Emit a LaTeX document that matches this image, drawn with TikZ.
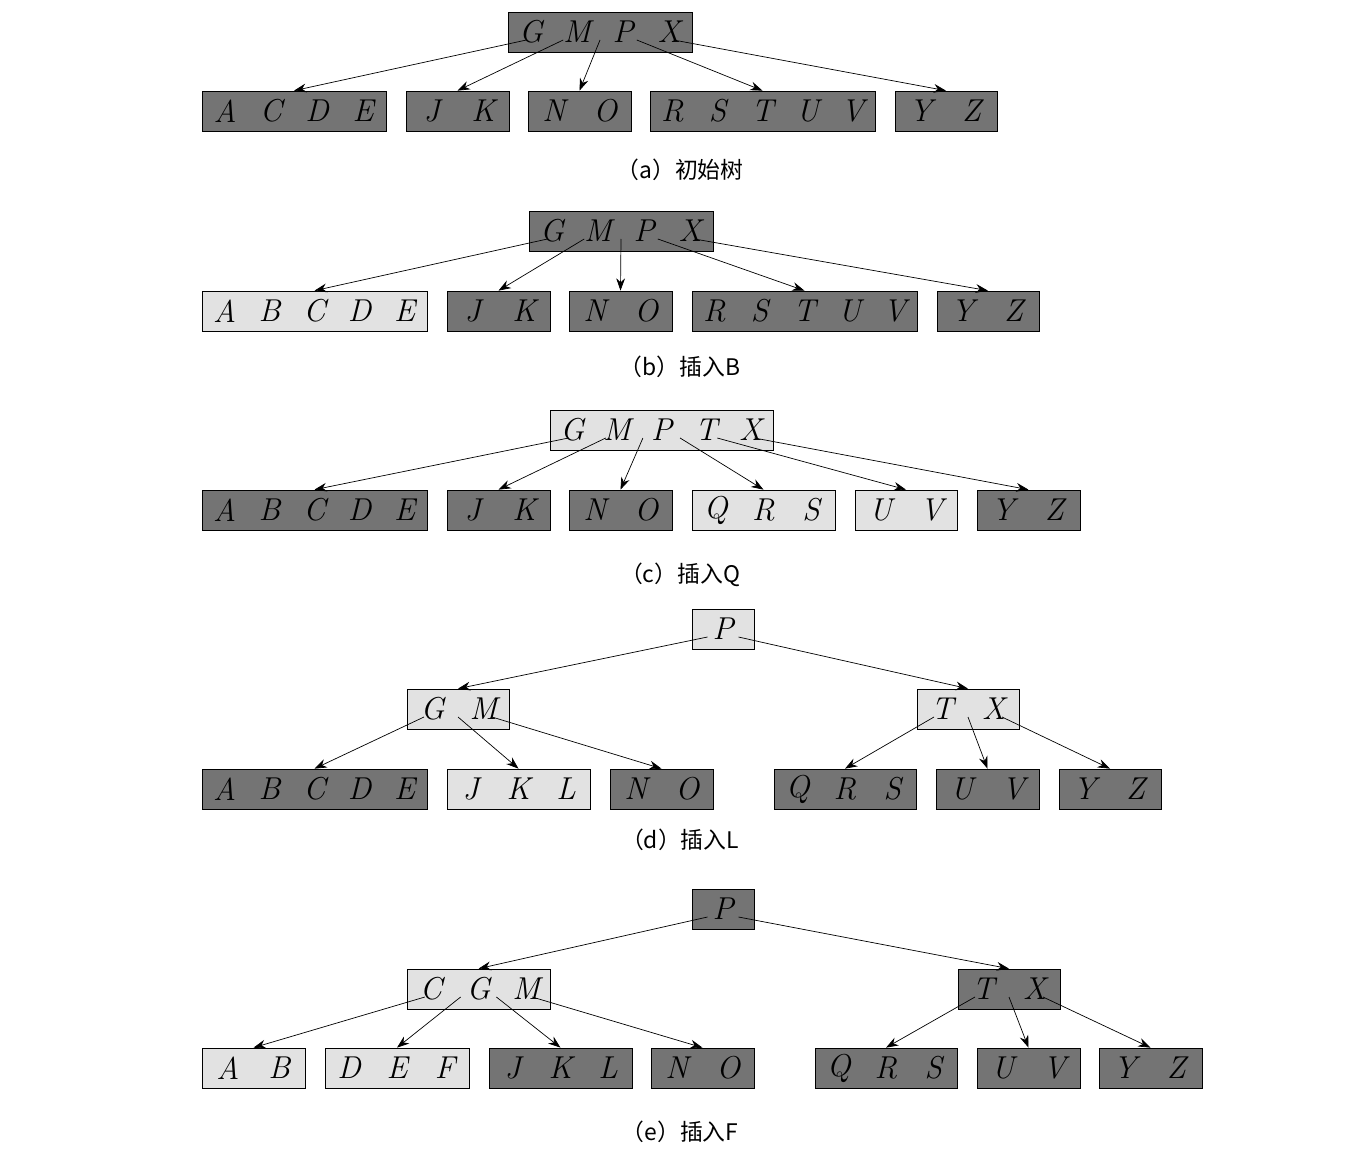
\documentclass[tikz,border=0pt]{standalone}
\usepackage{fontspec}
\newfontfamily\cjk{Noto Sans CJK SC}
\usetikzlibrary{arrows.meta}
\definecolor{darkkey}{HTML}{747474}
\definecolor{lightkey}{HTML}{E2E2E2}
\tikzset{
  dark/.style={draw=black,fill=darkkey},
  light/.style={draw=black,fill=lightkey},
  letter/.style={font=\fontsize{18}{20}\selectfont\itshape,inner sep=0pt},
  ptr/.style={-{Stealth[length=7pt,width=5pt]},thin},
  caption/.style={font=\cjk\fontsize{13}{15}\selectfont}
}
% name, left, right, y, style, number of keys, keys
\newcommand\bnode[7]{%
  \pgfmathsetmacro\bw{(#3-#2)*0.02}
  \node[#5,minimum width=\bw cm,minimum height=0.8cm,inner sep=0pt] (#1) at ({(#2+#3)/2},#4) {};
  \foreach \l [count=\i] in {#7}
    {\node[letter] at ({#2+(\i-0.5)*(#3-#2)/#6},#4) {\l};}
  \foreach \i in {1,...,\numexpr#6+1\relax}
    {\coordinate (#1-p\i) at ({#2+(\i-0.5)*(#3-#2)/(#6+1)},#4+8);}
}
\begin{document}
\begin{tikzpicture}[x=0.02cm,y=-0.02cm]
  \useasboundingbox (0,0) rectangle (1360,1162);

  %%%%  (a)
  \bnode{a0}{508}{692}{32}{dark}{4}{G,M,P,X}
  \bnode{a1}{202}{386}{111}{dark}{4}{A,C,D,E}
  \bnode{a2}{406}{509}{111}{dark}{2}{J,K}
  \bnode{a3}{528}{631}{111}{dark}{2}{N,O}
  \bnode{a4}{650}{875}{111}{dark}{5}{R,S,T,U,V}
  \bnode{a5}{895}{997}{111}{dark}{2}{Y,Z}
  \foreach \i in {1,...,5} {\draw[ptr] (a0-p\i) -- (a\i.north);}
  \node[caption] (capa) at (680,170) {（a）初始树};

  %%%%  (b)
  \bnode{b0}{529}{713}{231}{dark}{4}{G,M,P,X}
  \bnode{b1}{202}{427}{311}{light}{5}{A,B,C,D,E}
  \bnode{b2}{447}{550}{311}{dark}{2}{J,K}
  \bnode{b3}{569}{672}{311}{dark}{2}{N,O}
  \bnode{b4}{692}{917}{311}{dark}{5}{R,S,T,U,V}
  \bnode{b5}{937}{1039}{311}{dark}{2}{Y,Z}
  \foreach \i in {1,...,5} {\draw[ptr] (b0-p\i) -- (b\i.north);}
  \node[caption] (capb) at (680,367) {（b）插入\textit{B}};

  %%%%  (c)
  \bnode{c0}{550}{773}{430}{light}{5}{G,M,P,T,X}
  \bnode{c1}{202}{427}{510}{dark}{5}{A,B,C,D,E}
  \bnode{c2}{447}{550}{510}{dark}{2}{J,K}
  \bnode{c3}{569}{672}{510}{dark}{2}{N,O}
  \bnode{c4}{692}{835}{510}{light}{3}{Q,R,S}
  \bnode{c5}{855}{957}{510}{light}{2}{U,V}
  \bnode{c6}{977}{1080}{510}{dark}{2}{Y,Z}
  \foreach \i in {1,...,6} {\draw[ptr] (c0-p\i) -- (c\i.north);}
  \node[caption] (capc) at (680,575) {（c）插入\textit{Q}};

  %%%%  (d)
  \bnode{d0}{692}{754}{629}{light}{1}{P}
  \bnode{dl}{407}{509}{709}{light}{2}{G,M}
  \bnode{dr}{917}{1019}{709}{light}{2}{T,X}
  \bnode{d1}{202}{427}{789}{dark}{5}{A,B,C,D,E}
  \bnode{d2}{447}{590}{789}{light}{3}{J,K,L}
  \bnode{d3}{610}{713}{789}{dark}{2}{N,O}
  \bnode{d4}{774}{916}{789}{dark}{3}{Q,R,S}
  \bnode{d5}{936}{1039}{789}{dark}{2}{U,V}
  \bnode{d6}{1059}{1161}{789}{dark}{2}{Y,Z}
  \draw[ptr] (d0-p1) -- (dl.north);
  \draw[ptr] (d0-p2) -- (dr.north);
  \foreach \i in {1,2,3} {\draw[ptr] (dl-p\i) -- (d\i.north);}
  \foreach \i/\j in {1/4,2/5,3/6} {\draw[ptr] (dr-p\i) -- (d\j.north);}
  \node[caption] (capd) at (680,840) {（d）插入\textit{L}};

  %%%%  (e)
  \bnode{e0}{692}{754}{909}{dark}{1}{P}
  \bnode{el}{407}{550}{989}{light}{3}{C,G,M}
  \bnode{er}{958}{1060}{989}{dark}{2}{T,X}
  \bnode{e1}{202}{305}{1068}{light}{2}{A,B}
  \bnode{e2}{325}{469}{1068}{light}{3}{D,E,F}
  \bnode{e3}{489}{632}{1068}{dark}{3}{J,K,L}
  \bnode{e4}{651}{754}{1068}{dark}{2}{N,O}
  \bnode{e5}{815}{957}{1068}{dark}{3}{Q,R,S}
  \bnode{e6}{977}{1080}{1068}{dark}{2}{U,V}
  \bnode{e7}{1099}{1202}{1068}{dark}{2}{Y,Z}
  \draw[ptr] (e0-p1) -- (el.north);
  \draw[ptr] (e0-p2) -- (er.north);
  \foreach \i in {1,...,4} {\draw[ptr] (el-p\i) -- (e\i.north);}
  \foreach \i/\j in {1/5,2/6,3/7} {\draw[ptr] (er-p\i) -- (e\j.north);}
  \node[caption] (cape) at (680,1132) {（e）插入\textit{F}};
\end{tikzpicture}
\end{document}
